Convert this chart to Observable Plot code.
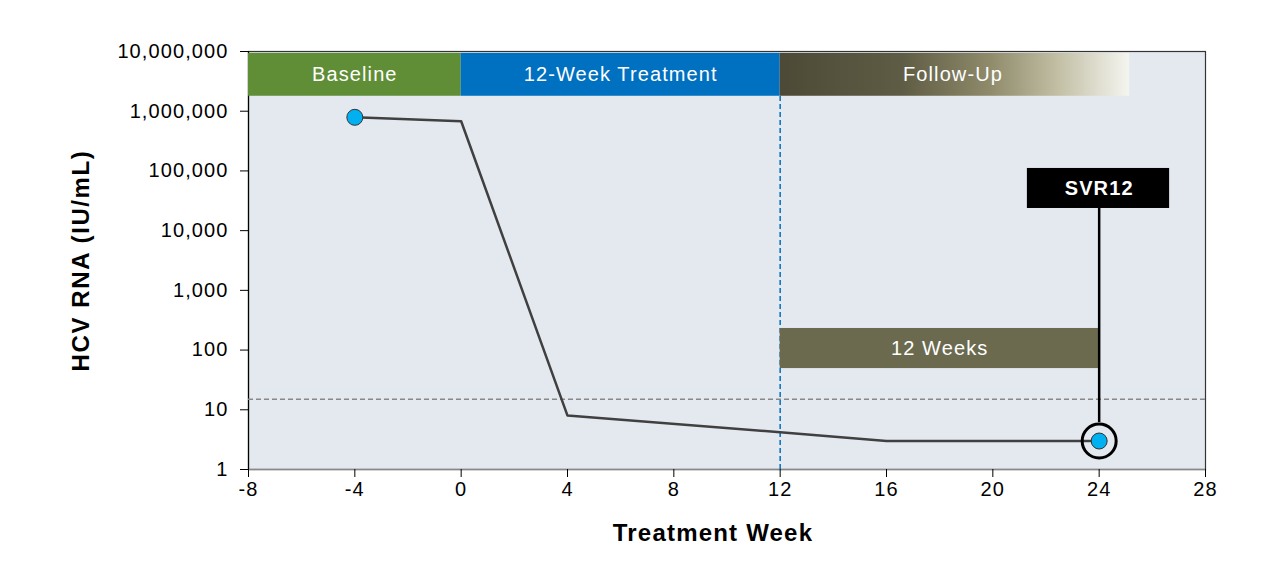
<!DOCTYPE html>
<html><head><meta charset="utf-8">
<script src="https://cdn.jsdelivr.net/npm/d3@7"></script>
<script src="https://cdn.jsdelivr.net/npm/@observablehq/plot@0.6"></script>
<style>
body{margin:0;background:#fff;font-family:"Liberation Sans",Arial,sans-serif;}
svg{font-family:"Liberation Sans",Arial,sans-serif;}
svg text{letter-spacing:1.1px;}
g[aria-label="y-axis label"] text{font-weight:bold;font-size:24px;fill:#000;letter-spacing:1.6px;}
g.xlabel text{letter-spacing:1.2px;}
g[aria-label="y-axis tick label"] text, g[aria-label="x-axis tick label"] text{fill:#000;}
</style>
</head><body><div id="chart"></div>
<script>
const weeks = [-4, 0, 4, 12, 16, 24];
const rna = [790000, 680000, 8, 4.2, 3, 3];
const markerWeeks = [-4, 24];
const markerRna = [790000, 3];
const yTicks = [1, 10, 100, 1000, 10000, 100000, 1000000, 10000000];
const xTicks = [-8, -4, 0, 4, 8, 12, 16, 20, 24, 28];
const phaseNames = ["Baseline", "12-Week Treatment", "Follow-Up"];
const phaseStart = [-8, 0, 12];
const phaseEnd = [0, 12, 25.15];
const phaseLabelAt = [-4, 6, 18.5];
const phaseColors = ["#5f8e37", "#0070c0", "url(#fuGrad)"];
const lloq = 15;
const windowLabel = "12 Weeks";
const windowStart = 12, windowEnd = 24;
const svrLabel = "SVR12";

const line = weeks.map((w, i) => ({w, v: rna[i]}));
const markers = markerWeeks.map((w, i) => ({w, v: markerRna[i]}));
const phases = phaseNames.map((n, i) => ({n, x1: phaseStart[i], x2: phaseEnd[i], c: phaseColors[i], mid: phaseLabelAt[i]}));

const chart = Plot.plot({
  width: 1280, height: 574,
  marginLeft: 248, marginRight: 75, marginTop: 51, marginBottom: 105,
  x: {domain: [-8, 28]},
  y: {type: "log", domain: [1, 10000000]},
  style: {fontSize: "20px", fontFamily: "Liberation Sans, Arial, sans-serif", color: "#000"},
  marks: [
    Plot.frame({fill: "#e4e9f0", stroke: "#333", strokeWidth: 1.2}),
    Plot.ruleY([1], {stroke: "#888", strokeWidth: 1.5}),
    Plot.ruleX([-8], {stroke: "#000", strokeWidth: 1.2}),
    Plot.rect(phases, {x1: "x1", x2: "x2", y1: 1780000, y2: 9300000, fill: "c"}),
    Plot.text(phases, {x: "mid", y: 4080000, text: "n", fill: "white", fontSize: 20}),
    Plot.ruleX([12], {y1: 1, y2: 1780000, stroke: "#0070c0", strokeDasharray: "5,3", strokeWidth: 1.5}),
    Plot.ruleY([lloq], {stroke: "#888", strokeDasharray: "5,3", strokeWidth: 1.5}),
    Plot.rect([{}], {x1: windowStart, x2: windowEnd, y1: 49, y2: 230, fill: "#6b6a4f"}),
    Plot.text([windowLabel], {x: (windowStart + windowEnd) / 2, y: 106, text: d => d, fill: "white", fontSize: 20}),
    Plot.line(line, {x: "w", y: "v", stroke: "#404040", strokeWidth: 2.5}),
    Plot.ruleX([24], {y1: 6.1, y2: 23500, stroke: "#000", strokeWidth: 2.5}),
    Plot.rect([{}], {x1: 21.3, x2: 26.65, y1: 23500, y2: 110000, fill: "#000"}),
    Plot.text([svrLabel], {x: 24, y: 50800, text: d => d, fill: "white", fontSize: 20, fontWeight: "bold"}),
    Plot.dot([markers[1]], {x: "w", y: "v", r: 17, stroke: "#000", strokeWidth: 3, fill: "none"}),
    Plot.dot(markers, {x: "w", y: "v", r: 8, fill: "#00b0f0", stroke: "#333", strokeWidth: 1}),
    Plot.axisY({ticks: yTicks, tickFormat: d3.format(","), tickSize: 8, tickPadding: 12, label: "HCV RNA (IU/mL)", labelAnchor: "center", labelOffset: 177, labelArrow: "none"}),
    Plot.axisX({ticks: xTicks, tickFormat: d => d, tickSize: 8, tickPadding: 4, label: null}),
    Plot.text(["Treatment Week"], {frameAnchor: "bottom", text: d => d, dy: 71, dx: -14, fontSize: 24, fontWeight: "bold", fill: "#000", className: "xlabel"})
  ]
});

const defs = document.createElementNS("http://www.w3.org/2000/svg", "defs");
defs.innerHTML = `<linearGradient id="fuGrad" x1="0" x2="1" y1="0" y2="0">
  <stop offset="0" stop-color="#4c4936"/>
  <stop offset="0.35" stop-color="#5f5c45"/>
  <stop offset="0.6" stop-color="#8e8a6a"/>
  <stop offset="0.8" stop-color="#c3c0a6"/>
  <stop offset="1" stop-color="#f5f5f0"/>
</linearGradient>`;
chart.insertBefore(defs, chart.firstChild);
document.getElementById("chart").appendChild(chart);
</script>
</body></html>
